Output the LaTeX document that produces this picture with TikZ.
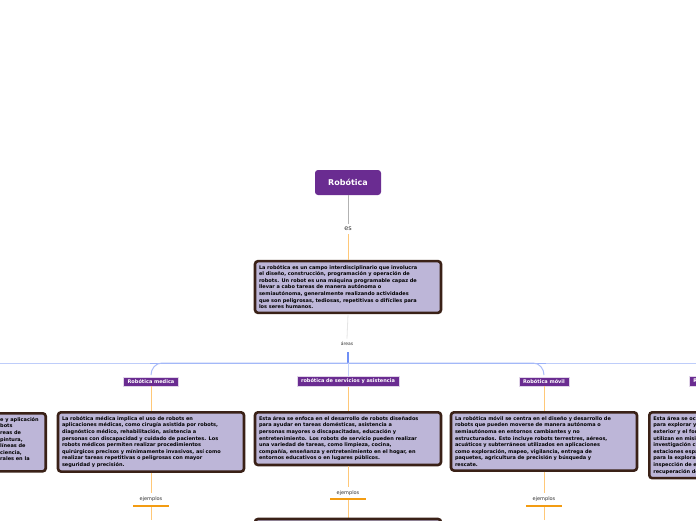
\documentclass[tikz,border=0pt]{standalone}
\usepackage{fontspec}
\setmainfont{DejaVu Sans}
\definecolor{purp}{HTML}{6A2C91}
\definecolor{lav}{HTML}{BDB6D8}
\definecolor{brn}{HTML}{3A2117}
\definecolor{org}{HTML}{FFC878}
\definecolor{orgd}{HTML}{F39C12}
\definecolor{blu}{HTML}{6F8FF5}
\begin{document}
\begin{tikzpicture}[x=1pt,y=-1pt,
 txtbox/.style={draw=brn,line width=2.6pt,fill=lav,rounded corners=3pt,inner sep=4pt,align=left,font=\fontsize{5}{6.6}\selectfont\bfseries,text=black},
 lbl/.style={fill=purp,draw=white!80!purp,line width=0.6pt,text=white,font=\fontsize{5}{6}\selectfont\bfseries,inner xsep=4pt,inner ysep=2.5pt},
 small/.style={font=\fontsize{5}{6}\selectfont,text=black!80},
 oline/.style={draw=org,line width=0.8pt},
 bar/.style={draw=orgd,line width=2.4pt}]
\useasboundingbox (0,0) rectangle (696,520);
\clip (0,0) rectangle (696,520);
\fill[white] (0,0) rectangle (696,520);
% root
\node[fill=purp,rounded corners=3pt,text=white,font=\fontsize{8}{9}\selectfont\bfseries,minimum width=66pt,minimum height=25pt] (root) at (348,182.5) {Robótica};
\node[font=\fontsize{6.5}{7}\selectfont,text=black!80] (es) at (348,229) {es};
\node[txtbox,text width=178pt] (main) at (348,287) {La robótica es un campo interdisciplinario que involucra\\el diseño, construcción, programación y operación de\\robots. Un robot es una máquina programable capaz de\\llevar a cabo tareas de manera autónoma o\\semiautónoma, generalmente realizando actividades\\que son peligrosas, tediosas, repetitivas o difíciles para\\los seres humanos.};
\draw[gray!60,line width=0.8pt] (root.south) -- (es.north);
\draw[oline] (es.south) -- (main.north);
\node[font=\fontsize{4.5}{5}\selectfont,text=black!80] (areas) at (347,344) {áreas};
\draw[oline,draw=gray!20] (main.south) -- (areas.north);
\coordinate (hub) at (348,363);
\draw[blu,line width=1.2pt] (348,352) -- (hub);
% horizontal spine
\draw[blu!45,line width=1pt] (0,363) -- (696,363);
\draw[blu!70,line width=1pt] (150,363) -- (546,363);
% labels
\node[lbl] (l1) at (151,381.5) {Robótica medica};
\node[lbl] (l2) at (348,381.5) {robótica de servicios y asistencia};
\node[lbl] (l3) at (544,381.5) {Robótica móvil};
\node[lbl,anchor=west] (l4) at (689,381.5) {Robótica espacial};
\draw[blu!60,line width=1pt] (hub) -- (162,363) to[out=180,in=90] (151,375);
\draw[blu!60,line width=1pt] (hub) -- (533,363) to[out=0,in=90] (544,375);
\draw[blu!40,line width=1pt] (hub) -- (l2.north);
% boxes
\node[txtbox,text width=178pt,anchor=north] (b1) at (151,411) {La robótica médica implica el uso de robots en\\aplicaciones médicas, como cirugía asistida por robots,\\diagnóstico médico, rehabilitación, asistencia a\\personas con discapacidad y cuidado de pacientes. Los\\robots médicos permiten realizar procedimientos\\quirúrgicos precisos y mínimamente invasivos, así como\\realizar tareas repetitivas o peligrosas con mayor\\seguridad y precisión.};
\node[txtbox,text width=178pt,anchor=north] (b2) at (348,411) {Esta área se enfoca en el desarrollo de robots diseñados\\para ayudar en tareas domésticas, asistencia a\\personas mayores o discapacitadas, educación y\\entretenimiento. Los robots de servicio pueden realizar\\una variedad de tareas, como limpieza, cocina,\\compañía, enseñanza y entretenimiento en el hogar, en\\entornos educativos o en lugares públicos.};
\node[txtbox,text width=178pt,anchor=north] (b3) at (544,411) {La robótica móvil se centra en el diseño y desarrollo de\\robots que pueden moverse de manera autónoma o\\semiautónoma en entornos cambiantes y no\\estructurados. Esto incluye robots terrestres, aéreos,\\acuáticos y subterráneos utilizados en aplicaciones\\como exploración, mapeo, vigilancia, entrega de\\paquetes, agricultura de precisión y búsqueda y\\rescate.};
\node[txtbox,text width=178pt,anchor=north west] (b4) at (648,411) {Esta área se ocupa del desarrollo de robots diseñados\\para explorar y operar en el espacio\\exterior y el fondo del mar. Estos robots se\\utilizan en misiones de exploración espacial,\\investigación científica, mantenimiento de\\estaciones espaciales, robots submarinos\\para la exploración oceánica, la\\inspección de estructuras submarinas y la\\recuperación de objetos.};
\node[txtbox,minimum width=100pt,minimum height=58pt,anchor=north east] (b0) at (47,412) {};
\node[anchor=north west,align=left,inner sep=0pt,font=\fontsize{5}{6.6}\selectfont\bfseries] (b0t) at (0,417) {e y aplicación\\bots\\reas de\\pintura,\\líneas de\\ciencia,\\rales en la};
\draw[oline] (l1.south) -- (b1.north);
\draw[oline] (l2.south) -- (b2.north);
\draw[oline] (l3.south) -- (b3.north);
% ejemplos
\foreach \i/\x in {1/151,2/348,3/544}{
 \node[small] (e\i) at (\x,\ifnum\i=2 493\else 499\fi) {ejemplos};
 \draw[oline] (b\i.south) -- (e\i.north);
 \draw[bar] (\x-18,\ifnum\i=2 499\else 506\fi) -- (\x+18,\ifnum\i=2 499\else 506\fi);
 \draw[oline] (\x,\ifnum\i=2 500\else 507\fi) -- (\x,520);
}
\draw[brn,line width=2.6pt,rounded corners=3pt,fill=lav] (255,530) -- (255,519) -- (441,519) -- (441,530);
\end{tikzpicture}
\end{document}
